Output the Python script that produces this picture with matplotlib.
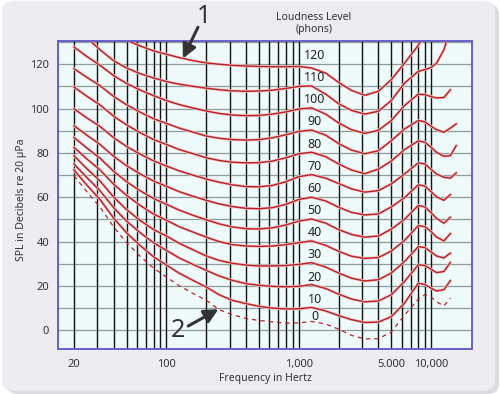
import numpy as np
import matplotlib
matplotlib.use('Agg')
import matplotlib.pyplot as plt
import matplotlib.patheffects as pe
from matplotlib.patches import FancyBboxPatch
from matplotlib.ticker import NullLocator, FixedLocator, FixedFormatter

plt.rcParams['font.family'] = ['Noto Sans', 'DejaVu Sans']

freqs = [20, 25, 31.5, 40, 50, 63, 80, 100, 125, 160, 200, 250, 315, 400, 500,
         630, 800, 1000, 1250, 1600, 2000, 2500, 3150, 4000, 5000, 6300, 8000,
         9000, 10000, 11000, 12500, 14000, 15500]

# SPL (dB) of each equal-loudness contour; None = curve not drawn there
phon_0 = [69.7, 62.5, 55.5, 46.5, 39.5, 33.5, 28, 24, 20, 16.5, 13.5, 9.3, 7, 5.3, 4.4,
          3.8, 3.2, 3.3, 4.0, 2.8, 0.5, -2.3, -3.9, -3.8, -0.8, 6.8, 14,
          16.1, 15, 12.8, 11, 14.5, None]
phon_10 = [72.3, 65.5, 58.9, 50.5, 43.9, 38.3, 33.1, 29.4, 25.7, 22.4, 19.5, 16, 13.5, 12, 10.8,
           10, 9.6, 9.7, 10.3, 8.7, 6.6, 4.8, 3.5, 3.7, 6.1, 12.2, 21.2,
           20.6, 19, 17.7, 18.3, 22.4, None]
phon_20 = [75, 68.9, 62.9, 55.2, 49.2, 44.1, 39.4, 36, 32.6, 29.6, 27, 24.5, 22.5, 21, 20.3,
           19.8, 19.6, 19.8, 20.6, 18.8, 16.3, 14.1, 12.8, 13.2, 16, 22, 29.5,
           29.2, 27.5, 26, 26.5, 30.6, None]
phon_30 = [78.7, 72.9, 67.3, 60, 54.4, 49.6, 45.4, 42.5, 39.2, 36.2, 33.5, 31.5, 30.2, 29.4, 29,
           29, 29.2, 29.7, 30.5, 28.5, 25.8, 23.5, 22.2, 22.8, 25.8, 31, 37.7,
           37.3, 35.3, 33.5, 32.6, 34.8, None]
phon_40 = [82.5, 77.3, 72.3, 65.8, 60.8, 56.4, 52.4, 49.6, 46.7, 44.2, 42, 40, 38.6, 38, 37.8,
           38, 38.6, 39.5, 40.3, 38.3, 35.6, 33.4, 32.4, 32.8, 35.7, 40.5, 47.2,
           46.7, 44.5, 42, 40.3, 43.6, None]
phon_50 = [87, 82.2, 77.6, 71.6, 67, 63, 59.4, 56.8, 54.2, 51.8, 49.8, 48, 46.6, 45.8, 45.7,
           46.2, 47.5, 49.2, 50.2, 48.3, 45.4, 43.2, 42, 42.5, 45.6, 50, 56.3,
           55.6, 53, 50.5, 48.3, 51, None]
phon_60 = [92.3, 88, 83.8, 78.4, 74.2, 70.6, 67.3, 64.9, 62.5, 60.4, 58.6, 57, 55.8, 55, 54.8,
           55.3, 56.8, 59, 60, 58.3, 55.5, 53.2, 52, 52.5, 55.6, 59.8, 65.6,
           65, 62.5, 60.2, 58.6, 61.2, None]
phon_70 = [99.9, 95.8, 91.9, 86.8, 82.9, 79.5, 76.4, 74.1, 71.9, 69.9, 68.2, 66.8, 65.6, 64.8, 64.7,
           65.3, 67, 69.3, 70.2, 68.6, 66.2, 63.8, 62.3, 63, 66, 70.5, 75.5,
           75, 72.6, 70.5, 69, 68.6, 71]
phon_80 = [109.7, 105.6, 101.6, 96.5, 92.6, 89.2, 86, 83.8, 81.5, 79.6, 77.8, 76.6, 75.8, 75.5, 75.6,
           76.3, 77.8, 79.6, 80.3, 78.3, 75, 72.3, 70.6, 72.7, 76.3, 81.5, 85.4,
           84.8, 82.5, 80.3, 78.5, 78.8, 83.3]
phon_90 = [118, 114.1, 110.3, 105.4, 101.7, 98.4, 95.4, 93.3, 91.2, 89.3, 87.6, 86.6, 86, 85.8, 86,
           86.8, 88.2, 89.7, 90.3, 88, 84.2, 81.3, 79.6, 81, 85.5, 90.8, 94.6,
           94, 92, 90.5, 89.3, 91.2, 93.1]
phon_100 = [127.8, 123.5, 119.5, 114.8, 111.3, 108.4, 105.8, 103.6, 101.8, 100.2, 98.9, 97.8, 97.1, 96.8, 96.9,
            97.5, 98.5, 99.8, 100.3, 97.5, 93.5, 90.5, 88.8, 90.2, 94.6, 101.4, 106.5,
            106.3, 105.4, 104.8, 105, 108.5, None]
phon_110 = [None, 132, 126.5, 121.5, 118.3, 115.8, 113.8, 112.2, 111, 110, 109.2, 108.5, 108, 107.8, 107.9,
            108.3, 109.1, 110, 110.2, 106.5, 102.2, 99.2, 97.5, 98.8, 103.6, 111.5, 116.8,
            117.6, 118.5, 120.5, 126.5, 136, None]
phon_120 = [None, None, None, 136, 130.8, 128.3, 126, 124.5, 123, 121.6, 120.6, 120, 119.5, 119.2, 119,
            118.9, 118.9, 119, 118.3, 116, 111.8, 108.2, 106, 107.8, 113, 120.5, 128.5,
            134, None, None, None, None, None]

phon_levels = [0, 10, 20, 30, 40, 50, 60, 70, 80, 90, 100, 110, 120]
curves = [phon_0, phon_10, phon_20, phon_30, phon_40, phon_50, phon_60,
          phon_70, phon_80, phon_90, phon_100, phon_110, phon_120]

x_ticks = [20, 100, 1000, 5000, 10000]
x_tick_labels = ['20', '100', '1,000', '5.000', '10,000']
y_ticks = [0, 20, 40, 60, 80, 100, 120]

red = '#b8232a'
ink = '#333333'

fig = plt.figure(figsize=(5.0, 3.94), dpi=100)
fig.patch.set_facecolor('white')
# soft panel behind the chart
fig.patches.append(FancyBboxPatch((0.012, 0.0), 0.986, 0.99,
                                  boxstyle='round,pad=0,rounding_size=0.025',
                                  transform=fig.transFigure, fc='#dcdce0', ec='none', zorder=-3))
fig.patches.append(FancyBboxPatch((0.004, 0.008), 0.986, 0.99,
                                  boxstyle='round,pad=0,rounding_size=0.025',
                                  transform=fig.transFigure, fc='#ededf1', ec='none', zorder=-2))

ax = fig.add_axes([0.116, 0.114, 0.828, 0.782])
ax.set_facecolor('#effafa')
ax.set_xscale('log')
ax.set_xlim(15.14, 20390)
ax.set_ylim(-8.5, 130.5)

# grid: gray horizontals every 10 dB, black verticals at 1-9 x decades
for level in range(0, 131, 10):
    ax.axhline(level, color='#8d9d9b', lw=0.9, zorder=1)
grid_freqs = [m * d for d in (10, 100, 1000) for m in range(2, 10)] + [100, 1000, 10000]
for f in grid_freqs:
    ax.axvline(f, color='#111111', lw=1.0, zorder=1.5)

freq_arr = np.array(freqs, dtype=float)
for level, vals in zip(phon_levels, curves):
    y = np.array(vals, dtype=float)
    if level == 0:
        ax.plot(freq_arr, y, color=red, lw=0.9, ls=(0, (3.5, 3.2)), zorder=3)
    else:
        ax.plot(freq_arr, y, color=red, lw=1.05, zorder=3, solid_joinstyle='round',
                path_effects=[pe.Stroke(linewidth=2.1, foreground='#f4c8c8'), pe.Normal()])
    ax.text(1320, max(level + 4, 6), str(level), ha='center', va='center',
            fontsize=9, color='#222222', zorder=4)

ax.xaxis.set_minor_locator(NullLocator())
ax.xaxis.set_major_locator(FixedLocator(x_ticks))
ax.xaxis.set_major_formatter(FixedFormatter(x_tick_labels))
ax.set_yticks(y_ticks)
ax.tick_params(axis='both', length=0, labelsize=8, colors=ink)
ax.tick_params(axis='x', pad=7)
ax.tick_params(axis='y', pad=6.5)
for side in ax.spines.values():
    side.set_color('#6a5fc8')
    side.set_linewidth(1.4)
    side.set_zorder(5)

# header over the contour labels
ax.text(1300, 1.076, 'Loudness Level', transform=ax.get_xaxis_transform(),
        ha='center', va='center', fontsize=7.5, color=ink)
ax.text(1300, 1.038, '(phons)', transform=ax.get_xaxis_transform(),
        ha='center', va='center', fontsize=7.5, color=ink)

fig.text(0.53, 1 - 379 / 394, 'Frequency in Hertz', ha='center', va='center',
         fontsize=7.5, color=ink)
fig.text(0.044, 1 - 200 / 394, 'SPL in Decibels re 20 µPa', ha='center', va='center',
         rotation=90, fontsize=7.5, color=ink)

# numbered callouts
arrow = dict(arrowstyle='-|>,head_length=0.6,head_width=0.3', lw=2.2, color=ink,
             mutation_scale=14, shrinkA=0, shrinkB=0)
ax.annotate('', xy=(133, 122.6), xytext=(173, 136.7), arrowprops=arrow,
            annotation_clip=False, zorder=6)
ax.text(192, 141.6, '1', ha='center', va='center', fontsize=18, color=ink, clip_on=False)
ax.annotate('', xy=(247, 9.5), xytext=(146, 1.9), arrowprops=arrow,
            annotation_clip=False, zorder=6)
ax.text(122, 0, '2', ha='center', va='center', fontsize=18, color=ink, zorder=6)

fig.savefig('out.png', dpi=100)
